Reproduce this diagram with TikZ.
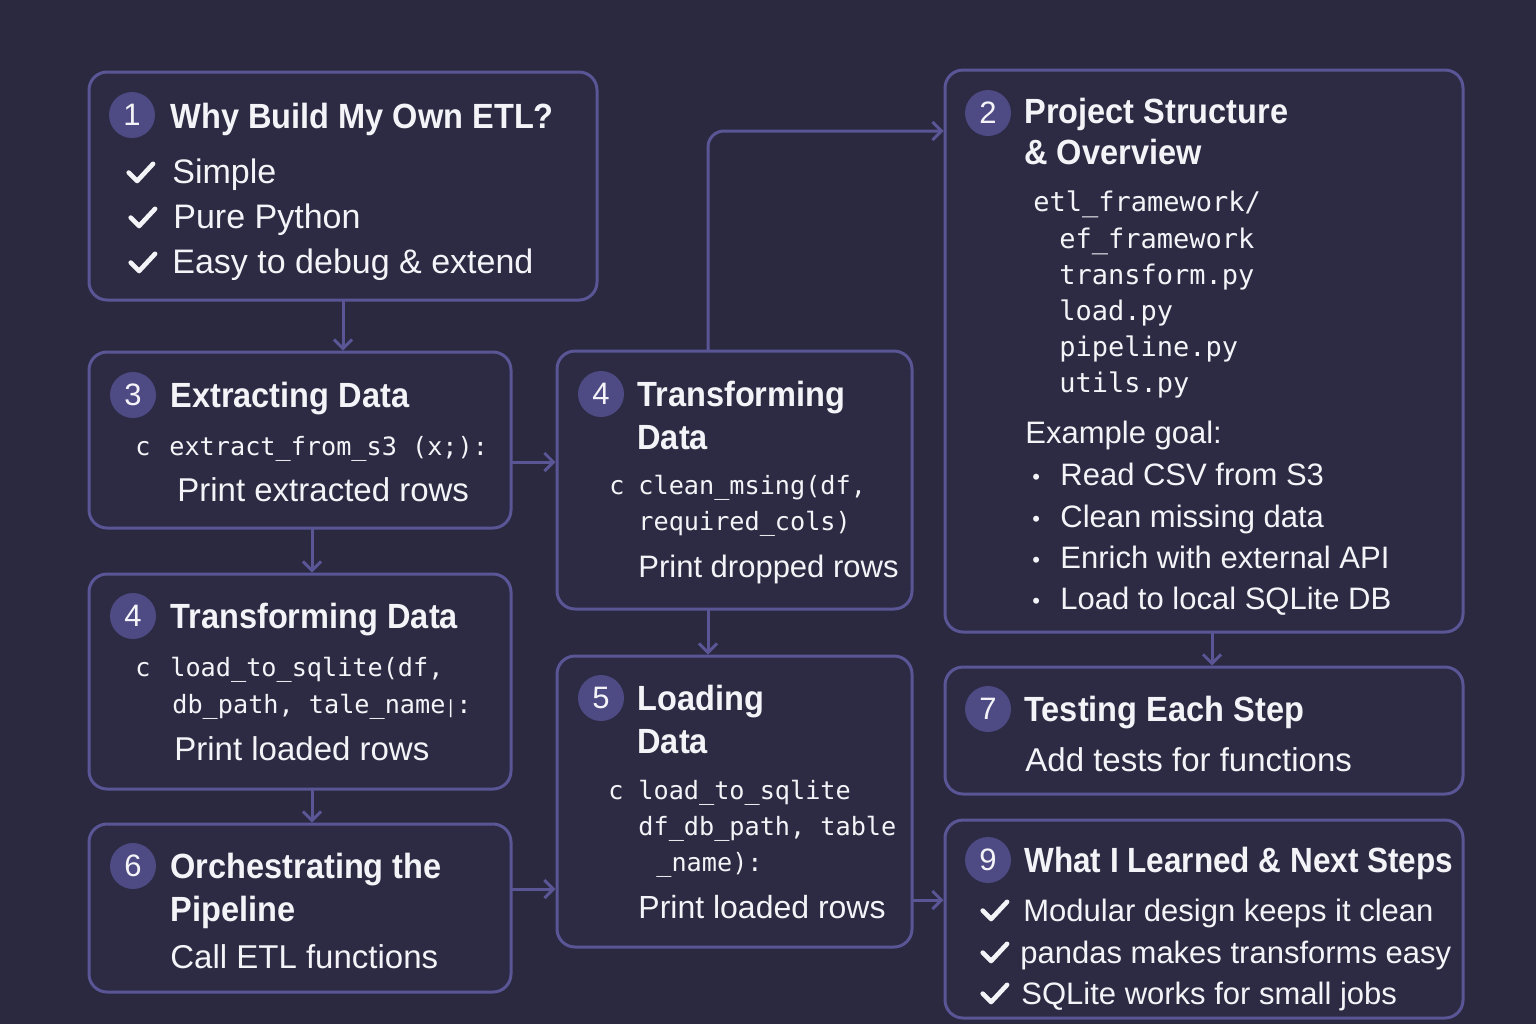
\documentclass[tikz,border=0pt]{standalone}
\usepackage{graphicx}
\usepackage{fontspec}
\setmainfont{Liberation Sans}
\newfontfamily\monof{DejaVu Sans Mono}
\usetikzlibrary{arrows.meta}
\definecolor{bg}{HTML}{2A2940}
\definecolor{boxbg}{HTML}{2C2B43}
\definecolor{edge}{HTML}{5A5696}
\definecolor{badge}{HTML}{4E4A84}
\definecolor{fg}{HTML}{F4F4F8}
\newcommand\ttltext[1]{\scalebox{0.93}[1]{\fontsize{17.5}{20}\selectfont\bfseries #1}}
\newcommand\chkmark{\tikz[x=1pt,y=1pt,baseline=0pt]\draw[line width=2.3pt, line cap=round, line join=round, color=fg] (0.8,5.2) -- (5,1) -- (13,9.6);}
\begin{document}
\begin{tikzpicture}[x=0.5pt,y=-0.5pt,
  box/.style={draw=edge, line width=1.5pt, rounded corners=9pt, fill=boxbg, inner sep=0pt},
  badgec/.style={circle, fill=badge, minimum size=23pt, inner sep=0pt, text=fg, font=\fontsize{15.5}{15.5}\selectfont},
  ttl/.style={anchor=base west, inner sep=0pt, text=fg},
  txt/.style={anchor=base west, inner sep=0pt, text=fg, font=\fontsize{16.5}{18}\selectfont},
  txtb/.style={anchor=base west, inner sep=0pt, text=fg, font=\fontsize{17}{18}\selectfont},
  txts/.style={anchor=base west, inner sep=0pt, text=fg, font=\fontsize{15.5}{18}\selectfont},
  code/.style={anchor=base west, inner sep=0pt, text=fg, font=\monof\fontsize{12.6}{15}\selectfont},
  codeb/.style={anchor=base west, inner sep=0pt, text=fg, font=\monof\fontsize{13.5}{15}\selectfont},
  chk/.style={anchor=base west, inner sep=0pt},
  bul/.style={anchor=base west, inner sep=0pt, text=fg, font=\fontsize{11}{11}\selectfont},
  arr/.style={draw=edge, line width=1.5pt, -{Straight Barb[length=4.5pt,width=9pt]}, line cap=round, line join=round}]

\fill[bg] (0,0) rectangle (1536,1024);
\useasboundingbox (0,0) rectangle (1536,1024);

% boxes
\node[box, minimum width=254pt, minimum height=114pt] (b1) at (343,186) {};
\node[box, minimum width=259pt, minimum height=281pt] (b2) at (1204,351) {};
\node[box, minimum width=211pt, minimum height=88pt] (b3) at (300,440) {};
\node[box, minimum width=211pt, minimum height=107.5pt] (b4a) at (300,681.5) {};
\node[box, minimum width=211pt, minimum height=84pt] (b6) at (300,908) {};
\node[box, minimum width=177.5pt, minimum height=129pt] (b4b) at (734.5,480) {};
\node[box, minimum width=177.5pt, minimum height=145.5pt] (b5) at (734.5,801.5) {};
\node[box, minimum width=259pt, minimum height=63.5pt] (b7) at (1204,730.5) {};
\node[box, minimum width=259pt, minimum height=99pt] (b9) at (1204,919) {};

% Box 1
\node[badgec] (n1) at (132,115) {1};
\node[ttl] (t1) at (170,128) {\ttltext{Why Build My Own ETL?}};
\node[chk] (c1a) at (126,183) {\chkmark};
\node[txtb] (l1a) at (172,183) {Simple};
\node[chk] (c1b) at (128,228) {\chkmark};
\node[txtb] (l1b) at (173,228) {Pure Python};
\node[chk] (c1c) at (128,273) {\chkmark};
\node[txtb] (l1c) at (172,273) {Easy to debug \& extend};

% Box 2
\node[badgec] (n2) at (988,113) {2};
\node[ttl] (t2a) at (1024,123) {\ttltext{Project Structure}};
\node[ttl] (t2b) at (1024,164) {\ttltext{\& Overview}};
\node[codeb] (f0) at (1033,211) {etl\_framework/};
\node[codeb] (f1) at (1059,248) {ef\_framework};
\node[codeb] (f2) at (1059,284) {transform.py};
\node[codeb] (f3) at (1059,320) {load.py};
\node[codeb] (f4) at (1059,356) {pipeline.py};
\node[codeb] (f5) at (1059,392) {utils.py};
\node[txts] (eg) at (1025,443) {Example goal:};
\node[bul] (d1) at (1032,484) {•};
\node[txts] (g1) at (1060,485) {Read CSV from S3};
\node[bul] (d2) at (1032,526) {•};
\node[txts] (g2) at (1060,527) {Clean missing data};
\node[bul] (d3) at (1032,567) {•};
\node[txts] (g3) at (1060,568) {Enrich with external API};
\node[bul] (d4) at (1032,608) {•};
\node[txts] (g4) at (1060,609) {Load to local SQLite DB};

% Box 3
\node[badgec] (n3) at (133,395) {3};
\node[ttl] (t3) at (170,407) {\ttltext{Extracting Data}};
\node[code] (k3) at (135,455) {c};
\node[code] (e3) at (169,455) {extract\_from\_s3 (x;):};
\node[txt] (p3) at (177,501) {Print extracted rows};

% Box 4 (left)
\node[badgec] (n4a) at (133,616) {4};
\node[ttl] (t4a) at (170,628) {\ttltext{Transforming Data}};
\node[code] (k4a) at (135,676) {c};
\node[code] (e4a) at (170,676) {load\_to\_sqlite(df,};
\node[code] (e4b) at (172,713) {db\_path, tale\_name{\fontsize{9}{9}\selectfont|}:};
\node[txt] (p4a) at (174,760) {Print loaded rows};

% Box 6
\node[badgec] (n6) at (133,866) {6};
\node[ttl] (t6a) at (170,878) {\ttltext{Orchestrating the}};
\node[ttl] (t6b) at (170,921) {\ttltext{Pipeline}};
\node[txt] (p6) at (170,968) {Call ETL functions};

% Box 4 (middle)
\node[badgec] (n4b) at (601,394) {4};
\node[ttl] (t4b) at (637,406) {\ttltext{Transforming}};
\node[ttl] (t4c) at (637,449) {\ttltext{Data}};
\node[code] (k4b) at (609,494) {c};
\node[code] (e4c) at (638,494) {clean\_msing(df,};
\node[code] (e4d) at (638,530) {required\_cols)};
\node[txts] (p4b) at (638,577) {Print dropped rows};

% Box 5
\node[badgec] (n5) at (601,698) {5};
\node[ttl] (t5a) at (637,710) {\ttltext{Loading}};
\node[ttl] (t5b) at (637,753) {\ttltext{Data}};
\node[code] (k5) at (608,799) {c};
\node[code] (e5a) at (638,799) {load\_to\_sqlite};
\node[code] (e5b) at (638,835) {df\_db\_path, table};
\node[code] (e5c) at (656,871) {\_name):};
\node[txt, font=\fontsize{16}{18}\selectfont] (p5) at (638,918) {Print loaded rows};

% Box 7
\node[badgec] (n7) at (988,709) {7};
\node[ttl] (t7) at (1024,721) {\ttltext{Testing Each Step}};
\node[txt] (p7) at (1025,771) {Add tests for functions};

% Box 9
\node[badgec] (n9) at (988,860) {9};
\node[ttl] (t9) at (1024,872) {\scalebox{0.9}[1]{\fontsize{17.5}{20}\selectfont\bfseries What I Learned \& Next Steps}};
\node[chk] (c9a) at (980,921) {\chkmark};
\node[txts] (q1) at (1023,921) {Modular design keeps it clean};
\node[chk] (c9b) at (980,963) {\chkmark};
\node[txts] (q2) at (1020,963) {pandas makes transforms easy};
\node[chk] (c9c) at (980,1004) {\chkmark};
\node[txts] (q3) at (1021,1004) {SQLite works for small jobs};

% connectors
\draw[arr] (b1.south) -- (b1.south |- b3.north);
\draw[arr] ([xshift=6pt]b3.south) -- ([xshift=6pt]b4a.north);
\draw[arr] ([xshift=6pt]b4a.south) -- ([xshift=6pt]b6.north);
\coordinate (a3) at ([yshift=-11pt]b3.east);
\draw[arr] (a3) -- (a3 -| b4b.west);
\coordinate (a6) at ([yshift=9.5pt]b6.east);
\draw[arr] (a6) -- (a6 -| b5.west);
\coordinate (up) at ([xshift=-13.25pt]b4b.north);
\coordinate (turn) at (708,131);
\draw[arr, rounded corners=8pt] (up) |- (turn -| b2.west);
\draw[arr] ([xshift=-13.25pt]b4b.south) -- ([xshift=-13.25pt]b5.north);
\draw[arr] ([xshift=4pt]b2.south) -- ([xshift=4pt]b7.north);
\coordinate (a5) at ([yshift=-49.25pt]b5.east);
\draw[arr] (a5) -- (a5 -| b9.west);
\end{tikzpicture}
\end{document}
